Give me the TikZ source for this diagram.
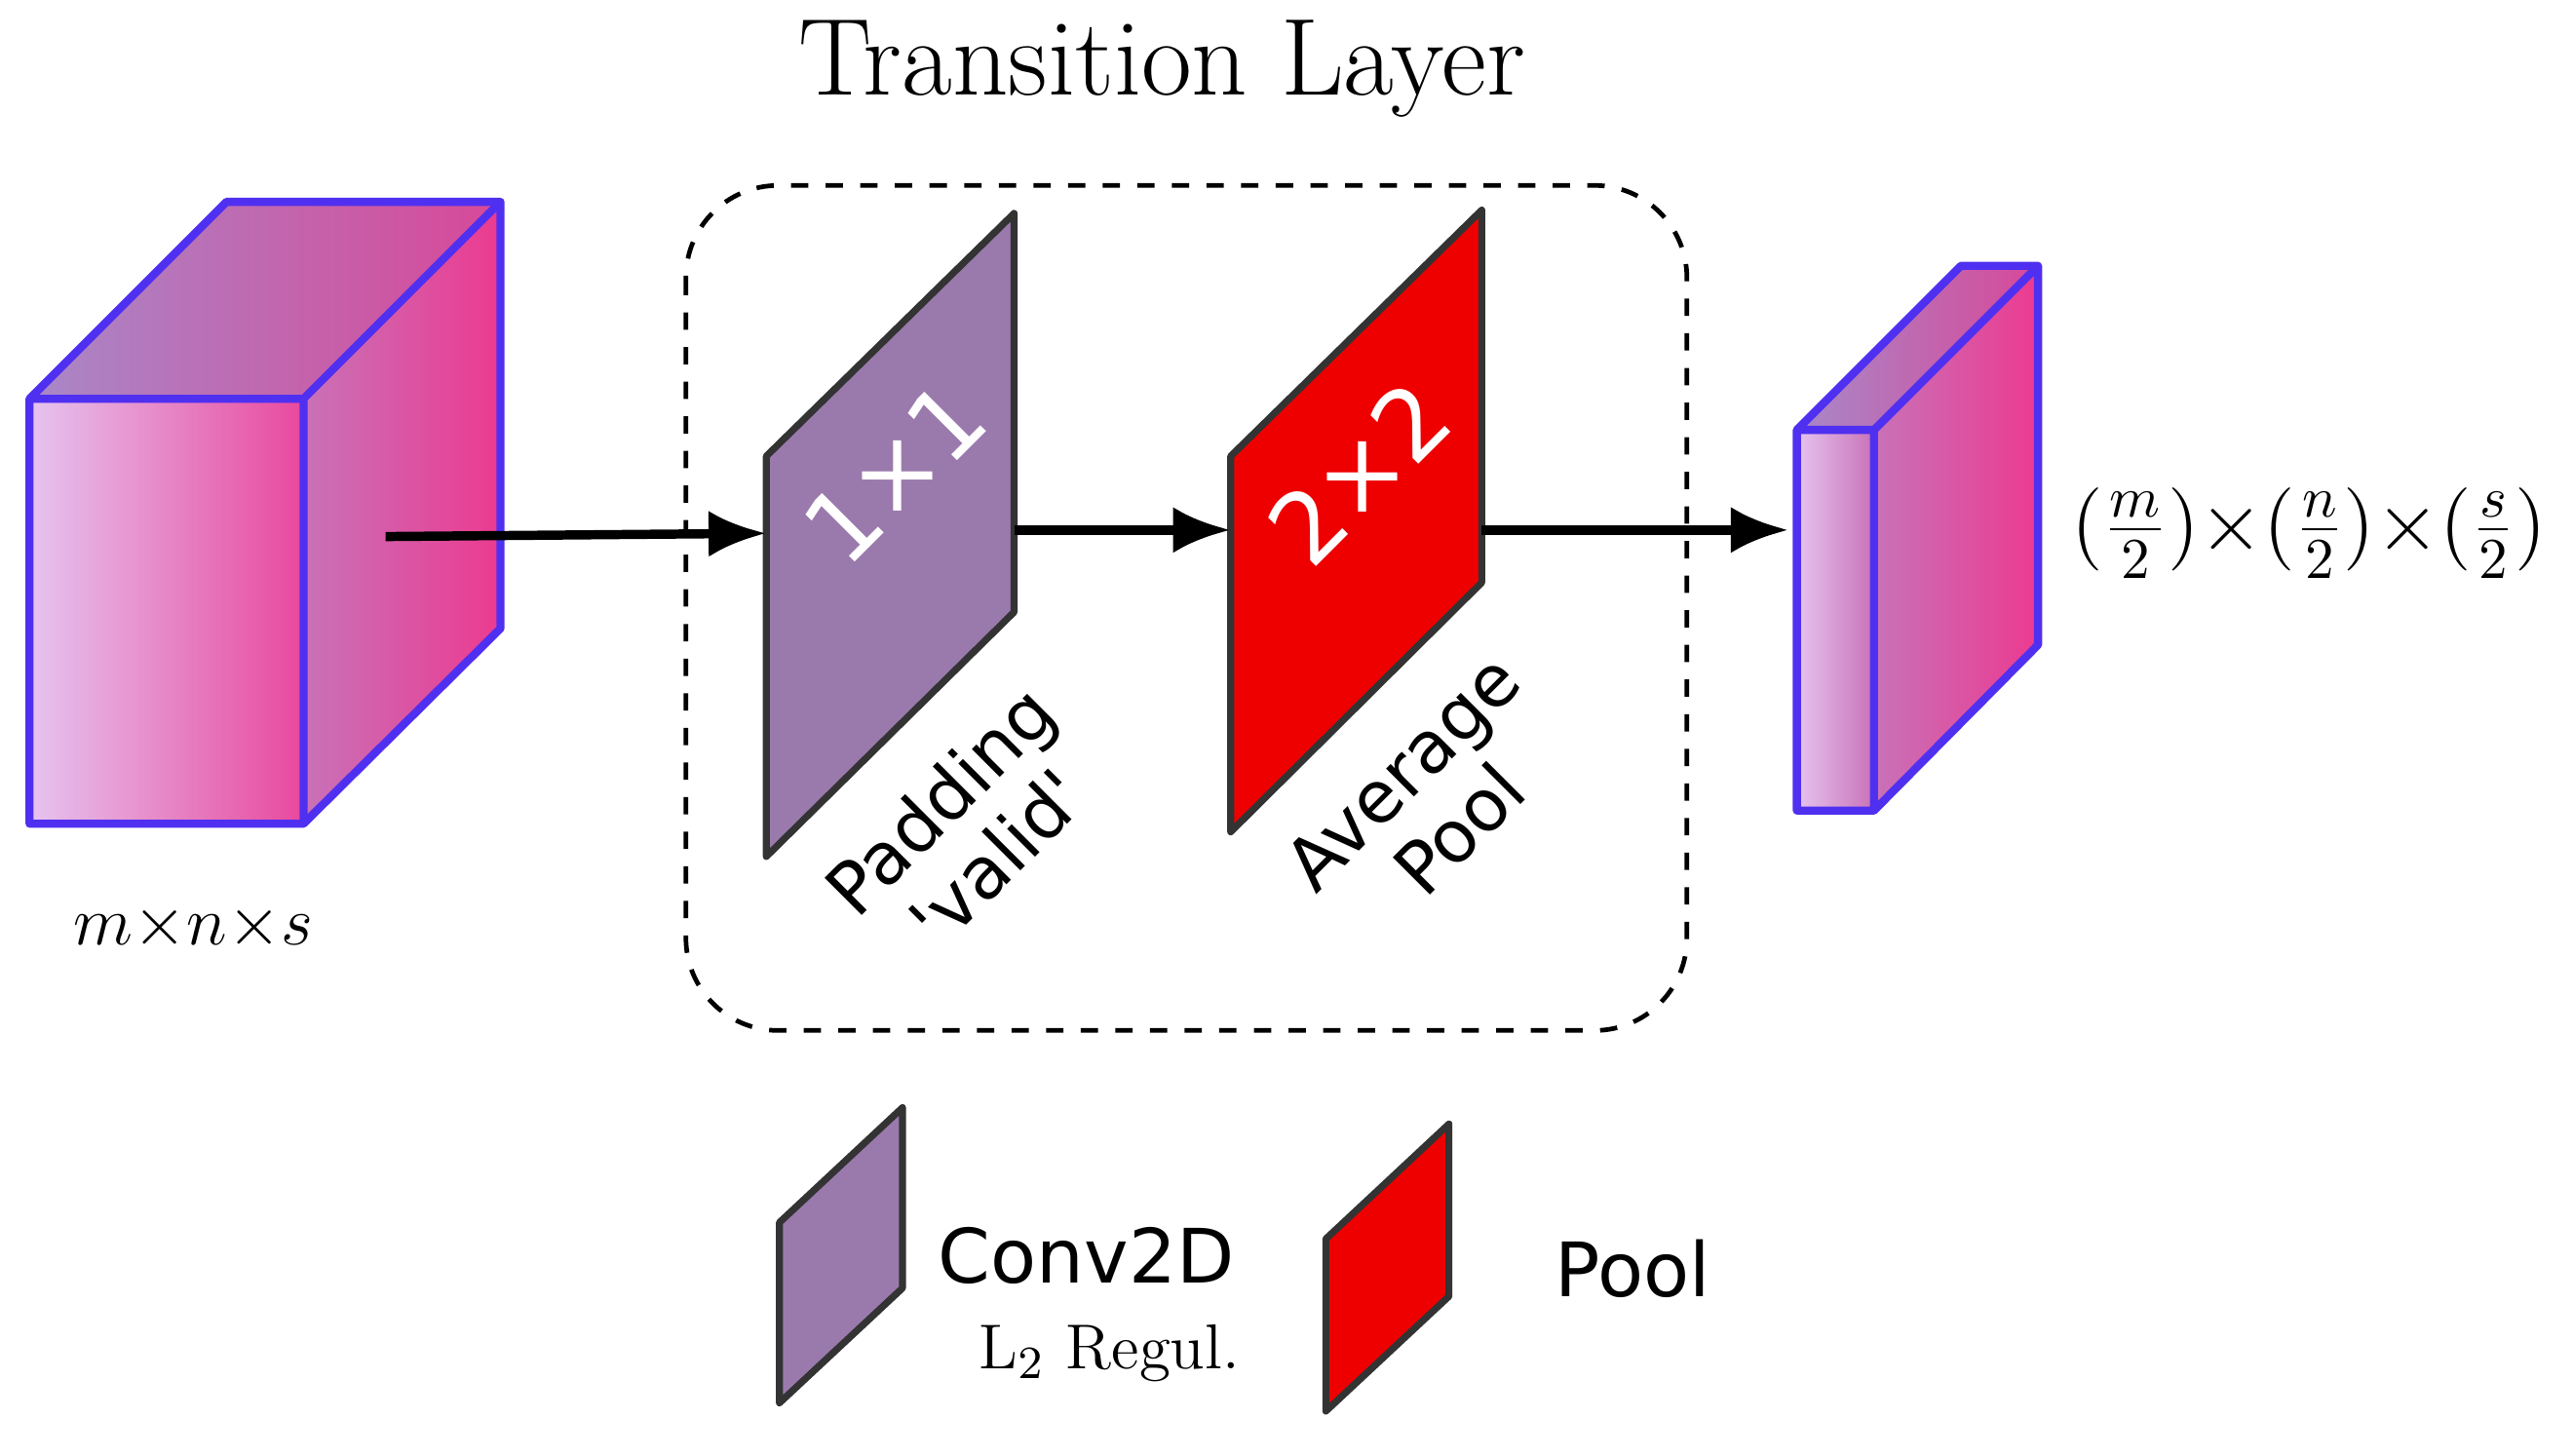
\documentclass[tikz,border=0pt]{standalone}
\usepackage{fontspec}
\newfontfamily\sans{DejaVu Sans}
\usetikzlibrary{arrows.meta}
\definecolor{edgeblue}{HTML}{5030F0}
\definecolor{convp}{HTML}{9A7AAC}
\definecolor{poolr}{HTML}{EE0000}
\definecolor{topL}{HTML}{A888C8}
\definecolor{topR}{HTML}{D84898}
\definecolor{frL}{HTML}{E6C4F0}
\definecolor{frR}{HTML}{E8489E}
\definecolor{rtL}{HTML}{C872B8}
\definecolor{rtR}{HTML}{EC3A90}
\tikzset{
  edge/.style={draw=edgeblue,line width=1.4pt,line join=round},
  flow/.style={-{Latex[length=10pt,width=8pt]},line width=1.6pt},
  lbl/.style={font=\sans\fontsize{12.5}{14}\selectfont,align=center,rotate=45},
  big/.style={font=\sans\fontsize{17}{19}\selectfont,text=white,rotate=45},
  plate/.style={draw=black!80,line width=1.2pt,line join=round}
}
\begin{document}
\begin{tikzpicture}[x=0.01cm,y=-0.01cm]
\useasboundingbox (0,0) rectangle (1568,887);
\node[font=\fontsize{19}{23}\selectfont] (title) at (708,42) {Transition Layer};
% big cube
\shade[left color=topL,right color=topR] (18,243) -- (138,123) -- (305,123) -- (185,243) -- cycle;
\shade[left color=rtL,right color=rtR] (185,243) -- (305,123) -- (305,383) -- (185,502) -- cycle;
\shade[left color=frL,right color=frR] (18,243) rectangle (185,502);
\draw[edge] (18,243) -- (138,123) -- (305,123) -- (305,383) -- (185,502) -- (18,502) -- cycle (18,243) -- (185,243) -- (305,123) (185,243) -- (185,502);
\coordinate (cin) at (235,327);
\node[font=\fontsize{13}{15}\selectfont] (lin) at (118,565) {$m{\times}n{\times}s$};
% dashed box
\draw[dashed,line width=0.8pt,rounded corners=16pt] (418,113) rectangle (1028,628);
% conv plate
\draw[plate,fill=convp] (467,278) -- (618,130) -- (618,373) -- (467,522) -- cycle;
\coordinate (convL) at (467,325);
\coordinate (convR) at (618,323);
\node[big] (c11) at (545,288) {1×1};
\node[lbl] (pad) at (590,505) {Padding\\\char"0027 valid\char"0027};
% pool plate
\draw[plate,fill=poolr] (750,278) -- (903,128) -- (903,355) -- (750,507) -- cycle;
\coordinate (poolL) at (750,323);
\coordinate (poolR) at (903,323);
\node[big] (c22) at (828,288) {2×2};
\node[lbl] (avg) at (872,488) {Average\\Pool};
% small cuboid
\shade[left color=topL,right color=topR] (1095,262) -- (1195,162) -- (1242,162) -- (1142,262) -- cycle;
\shade[left color=rtL,right color=rtR] (1142,262) -- (1242,162) -- (1242,393) -- (1142,494) -- cycle;
\shade[left color=frL,right color=rtL] (1095,262) rectangle (1142,494);
\draw[edge] (1095,262) -- (1195,162) -- (1242,162) -- (1242,393) -- (1142,494) -- (1095,494) -- cycle (1095,262) -- (1142,262) -- (1242,162) (1142,262) -- (1142,494);
\coordinate (outL) at (1090,323);
\node[font=\fontsize{14}{16}\selectfont] (lout) at (1407,325) {$(\frac{m}{2}){\times}(\frac{n}{2}){\times}(\frac{s}{2})$};
% arrows
\draw[flow] (cin) -- (convL);
\draw[flow] (convR) -- (poolL);
\draw[flow] (poolR) -- (outL);
% legend
\draw[plate,fill=convp] (475,745) -- (550,675) -- (550,785) -- (475,855) -- cycle;
\node[font=\sans\fontsize{13}{15}\selectfont] (lconv) at (662,765) {Conv2D};
\node[font=\fontsize{11}{13}\selectfont] (lreg) at (676,825) {L$_2$ Regul.};
\draw[plate,fill=poolr] (808,755) -- (883,685) -- (883,790) -- (808,860) -- cycle;
\node[font=\sans\fontsize{13}{15}\selectfont] (lpool) at (995,773) {Pool};
\end{tikzpicture}
\end{document}
